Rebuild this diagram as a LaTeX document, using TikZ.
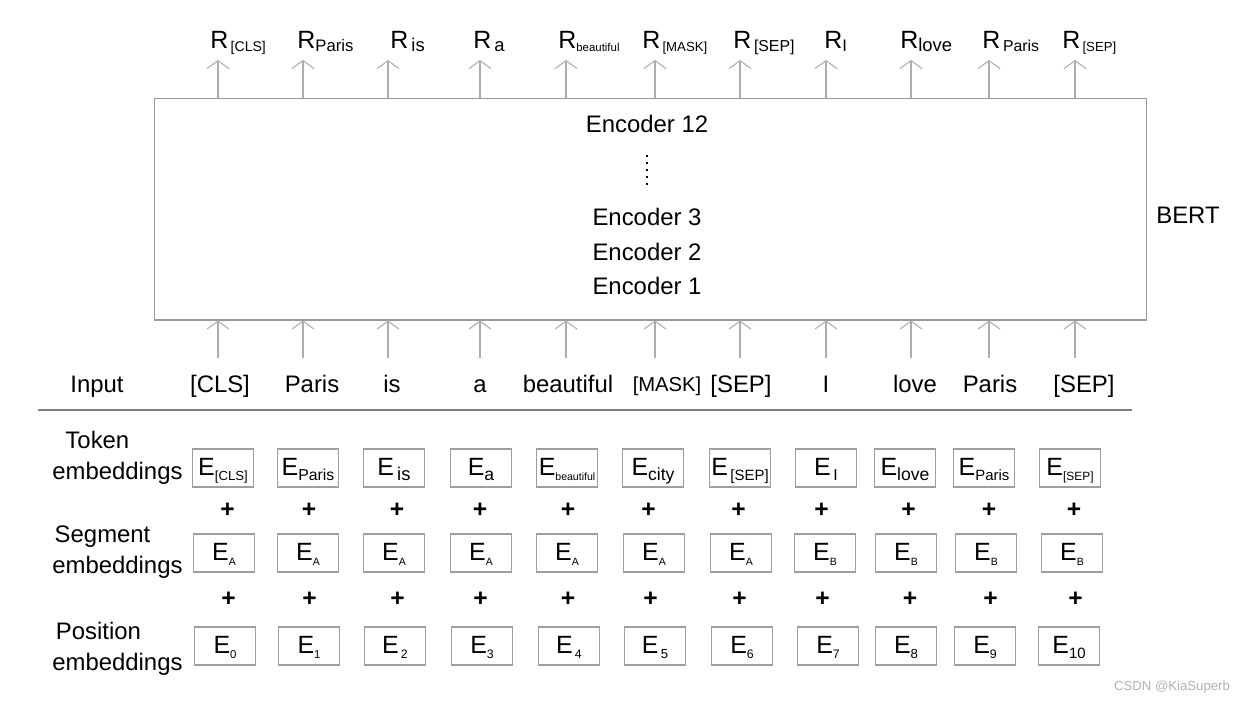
\documentclass[tikz,border=0pt]{standalone}
\usepackage{fontspec}
\setmainfont{Liberation Sans}
\usepackage{tikz}
\usetikzlibrary{arrows, arrows.meta, positioning, calc}

\tikzstyle{emb} = [rectangle, draw = gray!75, line width = 0.6pt, minimum width = 1.22cm, minimum height = 0.76cm, inner sep = 0pt, text height = 10.5pt, text depth = 2.5pt, font = \fontsize{14.2}{16}\selectfont]
\tikzstyle{word} = [anchor = base, inner sep = 0pt, font = \fontsize{13.6}{16}\selectfont]
\tikzstyle{rlabel} = [anchor = base west, inner sep = 0pt, font = \fontsize{14.2}{16}\selectfont]
\tikzstyle{rowname} = [anchor = west, align = left, inner sep = 0pt, font = \fontsize{13.6}{17.6}\selectfont]
\tikzstyle{plussign} = [inner sep = 0pt, font = \fontsize{14}{16}\selectfont\bfseries]
\tikzstyle{uparrow} = [-{Straight Barb[length = 4.5pt, width = 12.5pt]}, gray!65, line width = 0.6pt]

\newcommand{\Es}[2][7.5]{E\raisebox{-0.38ex}{\fontsize{#1}{#1}\selectfont #2}}
\newcommand{\Rs}[2][8]{R\raisebox{-0.3ex}{\fontsize{#1}{#1}\selectfont #2}}

\begin{document}
\begin{tikzpicture}[x = 0.02cm, y = -0.02cm]
\useasboundingbox (0,0) rectangle (1247,704);

% encoder stack
\node (enc) [draw = gray!80, line width = 0.6pt, minimum width = 19.86cm, minimum height = 4.44cm] at (650.5,209) {};
\node (e12) [word, anchor = center] at (647,124) {Encoder 12};
\node (e3) [word, anchor = center] at (647,217) {Encoder 3};
\node (e2) [word, anchor = center] at (647,252) {Encoder 2};
\node (e1) [word, anchor = center] at (647,286) {Encoder 1};
\coordinate (dtop) at (647,155);
\coordinate (dbot) at (647,190);
\draw[line width = 0.045cm, dash pattern = on 0.045cm off 0.095cm] (dtop) -- (dbot);
\node (bert) [word, anchor = center] at (1188,215) {BERT};

% outputs
\node (r1) [rlabel] at (210,48) {\Rs[8]{\,[CLS]}};
\node (r2) [rlabel] at (297,48) {\Rs[9.5]{Paris}};
\node (r3) [rlabel] at (390,48) {\Rs[10.5]{\,is}};
\node (r4) [rlabel] at (473,48) {\Rs[10.5]{\,a}};
\node (r5) [rlabel] at (558,48) {\Rs[6.5]{beautiful}};
\node (r6) [rlabel] at (642,48) {\Rs[7.5]{\,[MASK]}};
\node (r7) [rlabel] at (733,48) {\Rs[9]{\,[SEP]}};
\node (r8) [rlabel] at (824,48) {\Rs[9.5]{I}};
\node (r9) [rlabel] at (900,48) {\Rs[10.5]{love}};
\node (r10) [rlabel] at (982,48) {\Rs[9]{\,Paris}};
\node (r11) [rlabel] at (1062,48) {\Rs[7.5]{\,[SEP]}};

% inputs
\node (in0) [word] at (97,392) {Input};
\node (in1) [word] at (220,392) {[CLS]};
\node (in2) [word] at (312,392) {Paris};
\node (in3) [word] at (392,392) {is};
\node (in4) [word] at (480,392) {a};
\node (in5) [word] at (568,392) {beautiful};
\node (in6) [word, font = \fontsize{11.5}{14}\selectfont] at (667,391) {[MASK]};
\node (in7) [word] at (741,392) {[SEP]};
\node (in8) [word] at (826,392) {I};
\node (in9) [word] at (915,392) {love};
\node (in10) [word] at (990,392) {Paris};
\node (in11) [word] at (1084,392) {[SEP]};

\coordinate (lo1) at (218,358);  \coordinate (hi1) at (218,60);
\coordinate (lo2) at (303,358);  \coordinate (hi2) at (303,60);
\coordinate (lo3) at (388,358);  \coordinate (hi3) at (388,60);
\coordinate (lo4) at (480,358);  \coordinate (hi4) at (480,60);
\coordinate (lo5) at (566,358);  \coordinate (hi5) at (566,60);
\coordinate (lo6) at (655,358);  \coordinate (hi6) at (655,60);
\coordinate (lo7) at (740,358);  \coordinate (hi7) at (740,60);
\coordinate (lo8) at (826,358);  \coordinate (hi8) at (826,60);
\coordinate (lo9) at (911,358);  \coordinate (hi9) at (911,60);
\coordinate (lo10) at (989,358); \coordinate (hi10) at (989,60);
\coordinate (lo11) at (1075,358); \coordinate (hi11) at (1075,60);

\draw[uparrow] (lo1) -- (lo1 |- enc.south);
\draw[uparrow] (lo2) -- (lo2 |- enc.south);
\draw[uparrow] (lo3) -- (lo3 |- enc.south);
\draw[uparrow] (lo4) -- (lo4 |- enc.south);
\draw[uparrow] (lo5) -- (lo5 |- enc.south);
\draw[uparrow] (lo6) -- (lo6 |- enc.south);
\draw[uparrow] (lo7) -- (lo7 |- enc.south);
\draw[uparrow] (lo8) -- (lo8 |- enc.south);
\draw[uparrow] (lo9) -- (lo9 |- enc.south);
\draw[uparrow] (lo10) -- (lo10 |- enc.south);
\draw[uparrow] (lo11) -- (lo11 |- enc.south);

\draw[uparrow] (hi1 |- enc.north) -- (hi1);
\draw[uparrow] (hi2 |- enc.north) -- (hi2);
\draw[uparrow] (hi3 |- enc.north) -- (hi3);
\draw[uparrow] (hi4 |- enc.north) -- (hi4);
\draw[uparrow] (hi5 |- enc.north) -- (hi5);
\draw[uparrow] (hi6 |- enc.north) -- (hi6);
\draw[uparrow] (hi7 |- enc.north) -- (hi7);
\draw[uparrow] (hi8 |- enc.north) -- (hi8);
\draw[uparrow] (hi9 |- enc.north) -- (hi9);
\draw[uparrow] (hi10 |- enc.north) -- (hi10);
\draw[uparrow] (hi11 |- enc.north) -- (hi11);

\draw[gray, line width = 0.6pt] (38,410) -- (1132,410);

% embeddings
\node (tok) [rowname] at (52,458) {\hspace*{0.55em}Token\\embeddings};
\node (seg) [rowname] at (52,552) {\hspace*{0.1em}Segment\\embeddings};
\node (pos) [rowname] at (52,649) {\hspace*{0.15em}Position\\embeddings};

\node (t1) [emb] at (223,468) {\Es[7.5]{[CLS]}};
\node (t2) [emb] at (308,468) {\Es[9]{Paris}};
\node (t3) [emb] at (394,468) {\Es[10.5]{\,is}};
\node (t4) [emb] at (481,468) {\Es[10]{a}};
\node (t5) [emb] at (567,468) {\Es[6]{beautiful}};
\node (t6) [emb] at (653,468) {\Es[10]{city}};
\node (t7) [emb] at (740,468) {\Es[8.5]{\,[SEP]}};
\node (t8) [emb] at (826,468) {\Es[9]{\,I}};
\node (t9) [emb] at (905,468) {\Es[10]{love}};
\node (t10) [emb] at (984,468) {\Es[8.5]{Paris}};
\node (t11) [emb] at (1070,468) {\Es[6.8]{[SEP]}};

\node (s1) [emb] at (224,553) {\Es[6]{A}};
\node (s2) [emb] at (308,553) {\Es[6]{A}};
\node (s3) [emb] at (394,553) {\Es[6]{A}};
\node (s4) [emb] at (481,553) {\Es[6]{A}};
\node (s5) [emb] at (567,553) {\Es[6]{A}};
\node (s6) [emb] at (654,553) {\Es[6]{A}};
\node (s7) [emb] at (741,553) {\Es[6]{A}};
\node (s8) [emb] at (825,553) {\Es[6]{B}};
\node (s9) [emb] at (906,553) {\Es[6]{B}};
\node (s10) [emb] at (986,553) {\Es[6]{B}};
\node (s11) [emb] at (1072,553) {\Es[6]{B}};

\node (p1) [emb] at (225,646) {\Es[6.5]{0}};
\node (p2) [emb] at (309,646) {\Es[6.5]{1}};
\node (p3) [emb] at (395,646) {\Es[7]{\,2}};
\node (p4) [emb] at (482,646) {\Es[7]{3}};
\node (p5) [emb] at (569,646) {\Es[7]{\,4}};
\node (p6) [emb] at (655,646) {\Es[7.5]{\,5}};
\node (p7) [emb] at (742,646) {\Es[7]{6}};
\node (p8) [emb] at (828,646) {\Es[7]{7}};
\node (p9) [emb] at (906,646) {\Es[7.5]{8}};
\node (p10) [emb] at (985,646) {\Es[7]{9}};
\node (p11) [emb] at (1069,646) {\Es[8.5]{10}};

% plus signs between rows
\node (a1) [plussign] at ($(t1)!0.5!(s1) + (4,0)$) {+};
\node (a2) [plussign] at ($(t2)!0.5!(s2) + (1,0)$) {+};
\node (a3) [plussign] at ($(t3)!0.5!(s3) + (3,0)$) {+};
\node (a4) [plussign] at ($(t4)!0.5!(s4) + (-1,0)$) {+};
\node (a5) [plussign] at ($(t5)!0.5!(s5) + (1,0)$) {+};
\node (a6) [plussign] at ($(t6)!0.5!(s6) + (-5,0)$) {+};
\node (a7) [plussign] at ($(t7)!0.5!(s7) + (-2,0)$) {+};
\node (a8) [plussign] at ($(t8)!0.5!(s8) + (-4,0)$) {+};
\node (a9) [plussign] at ($(t9)!0.5!(s9) + (3,0)$) {+};
\node (a10) [plussign] at ($(t10)!0.5!(s10) + (4,0)$) {+};
\node (a11) [plussign] at ($(t11)!0.5!(s11) + (3,0)$) {+};

\node (b1) [plussign] at ($(s1)!0.5!(p1) + (4,0)$) {+};
\node (b2) [plussign] at ($(s2)!0.5!(p2) + (1,0)$) {+};
\node (b3) [plussign] at ($(s3)!0.5!(p3) + (3,0)$) {+};
\node (b4) [plussign] at ($(s4)!0.5!(p4) + (-1,0)$) {+};
\node (b5) [plussign] at ($(s5)!0.5!(p5) + (0,0)$) {+};
\node (b6) [plussign] at ($(s6)!0.5!(p6) + (-4,0)$) {+};
\node (b7) [plussign] at ($(s7)!0.5!(p7) + (-2,0)$) {+};
\node (b8) [plussign] at ($(s8)!0.5!(p8) + (-4,0)$) {+};
\node (b9) [plussign] at ($(s9)!0.5!(p9) + (4,0)$) {+};
\node (b10) [plussign] at ($(s10)!0.5!(p10) + (5,0)$) {+};
\node (b11) [plussign] at ($(s11)!0.5!(p11) + (5,0)$) {+};

\node (mark) [text = gray!60, font = \fontsize{7.5}{9}\selectfont] at (1172,687) {CSDN @KiaSuperb};

\end{tikzpicture}
\end{document}
